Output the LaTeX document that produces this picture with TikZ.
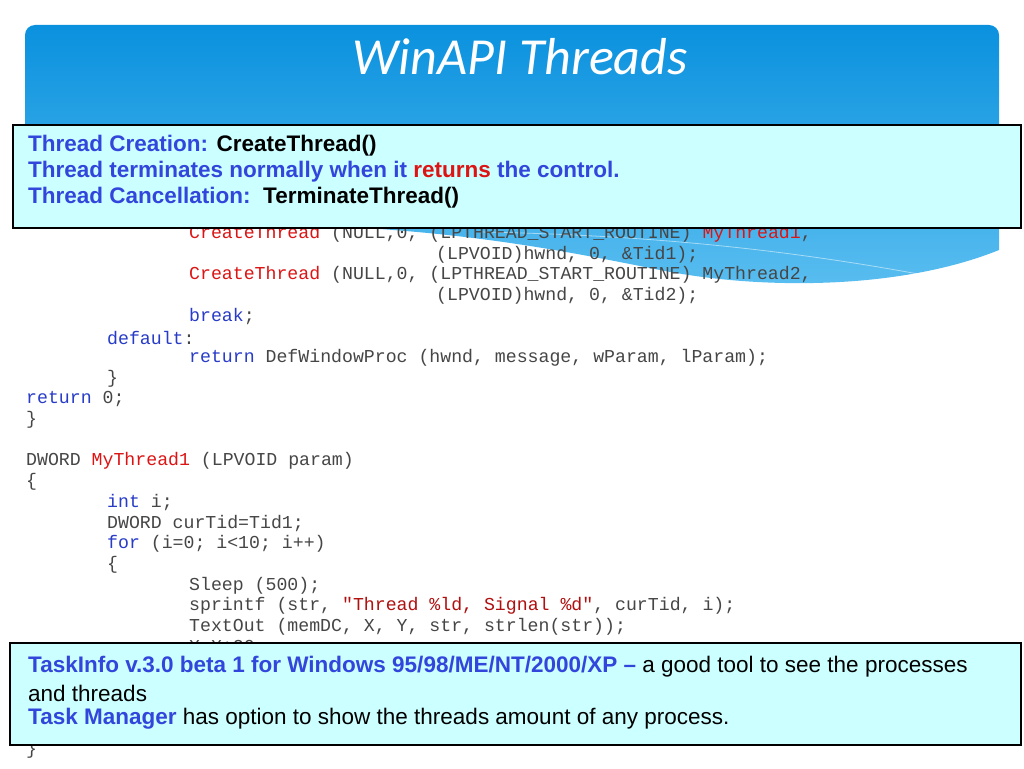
\documentclass[tikz,border=0pt]{standalone}
\usepackage{fontspec}
\setmainfont{Liberation Sans}
\newfontfamily\codefont{Liberation Mono}
\newfontfamily\titlefont{Carlito}
\definecolor{kw}{RGB}{40,60,200}
\definecolor{rd}{RGB}{220,20,20}
\definecolor{cd}{RGB}{70,70,70}
\definecolor{bl}{RGB}{50,70,220}
\definecolor{boxfill}{RGB}{204,255,255}
\definecolor{hdtop}{RGB}{10,145,222}
\definecolor{hdbot}{RGB}{90,190,240}
\begin{document}
\begin{tikzpicture}[x=1pt,y=-1pt,
  code/.style={anchor=west,inner sep=0pt,font=\codefont\fontsize{18.2}{20}\selectfont,text=cd},
  note/.style={draw=black,line width=1.3pt,fill=boxfill},
  ntext/.style={anchor=west,inner sep=0pt,font=\fontsize{22.5}{26}\selectfont}]
\useasboundingbox (0,0) rectangle (1024,768);
\fill[white] (0,0) rectangle (1024,768);
% header
\shade[top color=hdtop,bottom color=hdbot,rounded corners=10pt]
  (25,200) -- (25,25) -- (999,25) -- (999,200) [sharp corners] -- (999,250)
  .. controls (900,290) and (760,290) .. (660,270)
  .. controls (560,250) and (460,230) .. (300,225) -- (25,222) -- cycle;
\draw[white,opacity=0.5,line width=0.8pt] (480,232) .. controls (650,235) and (800,250) .. (960,282);
\node[text=white,font=\titlefont\itshape\fontsize{52}{56}\selectfont] (title) at (520,57) {WinAPI Threads};
% code
\node[code] (c1) at (189,234) {\textcolor{rd}{CreateThread} (NULL,0, (LPTHREAD\_START\_ROUTINE) \textcolor{rd}{MyThread1},};
\node[code] (c2) at (436,255) {(LPVOID)hwnd, 0, \&Tid1);};
\node[code] (c3) at (189,275) {\textcolor{rd}{CreateThread} (NULL,0, (LPTHREAD\_START\_ROUTINE) MyThread2,};
\node[code] (c4) at (436,296) {(LPVOID)hwnd, 0, \&Tid2);};
\node[code] (c5) at (189,317) {\textcolor{kw}{break};};
\node[code] (c6) at (107,338) {\textcolor{kw}{default}:};
\node[code] (c7) at (189,358) {\textcolor{kw}{return} DefWindowProc (hwnd, message, wParam, lParam);};
\node[code] (c8) at (107,379) {\}};
\node[code] (c9) at (26,399) {\textcolor{kw}{return} 0;};
\node[code] (c10) at (26,420) {\}};
\node[code] (c11) at (26,461) {DWORD \textcolor{rd}{MyThread1} (LPVOID param)};
\node[code] (c12) at (26,482) {\{};
\node[code] (c13) at (107,503) {\textcolor{kw}{int} i;};
\node[code] (c14) at (107,524) {DWORD curTid=Tid1;};
\node[code] (c15) at (107,544) {\textcolor{kw}{for} (i=0; i<10; i++)};
\node[code] (c16) at (107,565) {\{};
\node[code] (c17) at (189,586) {Sleep (500);};
\node[code] (c18) at (189,606) {sprintf (str, \textcolor{rd!80!black}{"Thread \%ld, Signal \%d"}, curTid, i);};
\node[code] (c19) at (189,627) {TextOut (memDC, X, Y, str, strlen(str));};
\node[code] (c20) at (189,648) {X=X+20;};
\node[code] (c21) at (26,750) {\}};
% notes
\draw[note] (13,125) rectangle (1021,228);
\node[ntext,text=bl] (t1) at (28,146) {\textbf{Thread Creation: \textcolor{black}{CreateThread()}}};
\node[ntext,text=bl] (t2) at (28,172) {\textbf{Thread terminates normally when it \textcolor{rd}{returns} the control.}};
\node[ntext,text=bl] (t3) at (28,198) {\textbf{Thread Cancellation:\ \ \textcolor{black}{TerminateThread()}}};
\draw[note] (10,643) rectangle (1021,745);
\node[ntext] (b1) at (28,667) {\textcolor{bl}{\textbf{TaskInfo v.3.0 beta 1 for Windows 95/98/ME/NT/2000/XP –}} a good tool to see the processes};
\node[ntext] (b2) at (28,693) {and threads};
\node[ntext] (b3) at (28,719) {\textcolor{bl}{\textbf{Task Manager}} has option to show the threads amount of any process.};
\end{tikzpicture}
\end{document}
